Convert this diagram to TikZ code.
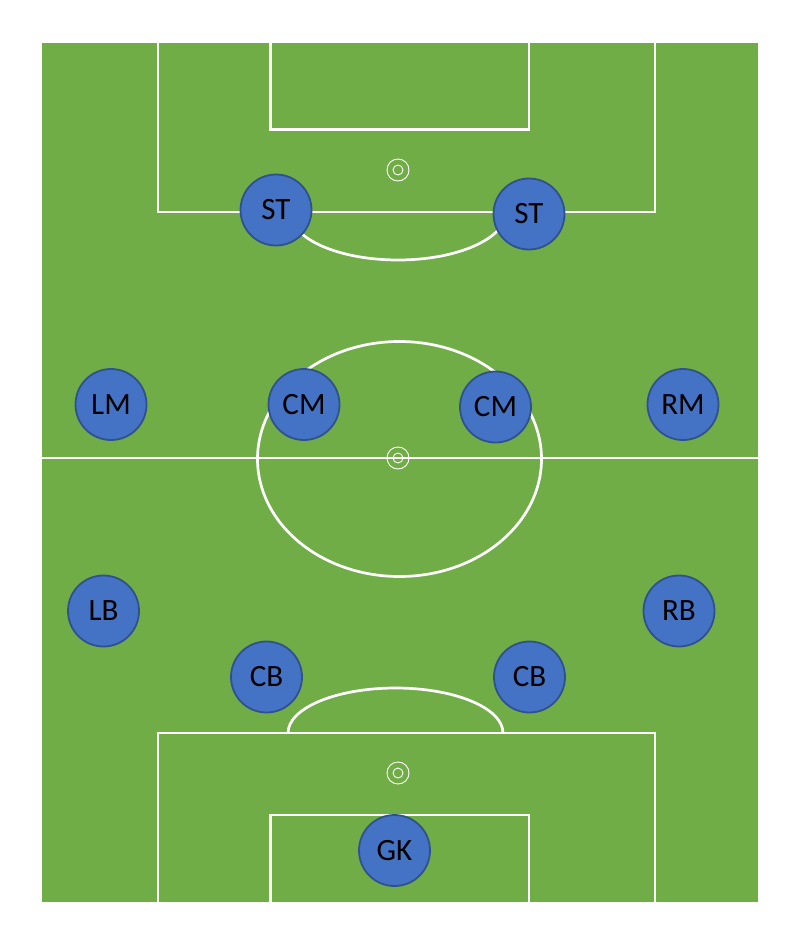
\documentclass[tikz,border=0pt]{standalone}
\usepackage{fontspec}
\setmainfont{Carlito}
\definecolor{pitch}{HTML}{70AD47}
\definecolor{plyrfill}{HTML}{4472C4}
\definecolor{plyredge}{HTML}{2F528F}
\tikzset{
  mark line/.style={white,line width=2.7pt},
  spot line/.style={white,line width=0.9pt},
  player/.style={circle,draw=plyredge,fill=plyrfill,line width=1.8pt,
    minimum size=71pt,inner sep=0pt,font=\fontsize{31}{33}\selectfont}
}
\begin{document}
\begin{tikzpicture}[x=1pt,y=-1pt]
\useasboundingbox(0,0) rectangle (800,942);
\fill[pitch](41.5,43.5) rectangle (758,902);
%
\draw[mark line](158,43.5)--(158,212)--(655,212)--(655,43.5);
\draw[mark line](270.5,43.5)--(270.5,129.5)--(529,129.5)--(529,43.5);
\draw[mark line](290,212) arc[start angle=180,end angle=360,x radius=108pt,y radius=48pt];
\draw[spot line](398,170) circle[radius=11pt] (398,170) circle[radius=5pt];
%
\draw[mark line](41.5,458)--(758,458);
\draw[mark line](399.5,459) ellipse[x radius=142pt,y radius=117.5pt];
\draw[spot line](398,458) circle[radius=11pt] (398,458) circle[radius=5pt];
%
\draw[mark line](158,902)--(158,733)--(655,733)--(655,902);
\draw[mark line](270.5,902)--(270.5,815)--(529,815)--(529,902);
\draw[mark line](288,733) arc[start angle=180,end angle=0,x radius=107.5pt,y radius=45pt];
\draw[spot line](398,773) circle[radius=11pt] (398,773) circle[radius=5pt];
%
\node[player](st1) at (276,210){ST};
\node[player](st2) at (529,214){ST};
\node[player](lm) at (111,404.5){LM};
\node[player](cm1) at (304,404.5){CM};
\node[player](cm2) at (495.5,407){CM};
\node[player](rm) at (683,404.5){RM};
\node[player](lb) at (103.5,611){LB};
\node[player](rb) at (679,611){RB};
\node[player](cb1) at (266.5,677){CB};
\node[player](cb2) at (529.5,677){CB};
\node[player](gk) at (394.5,850.5){GK};
\end{tikzpicture}
\end{document}
